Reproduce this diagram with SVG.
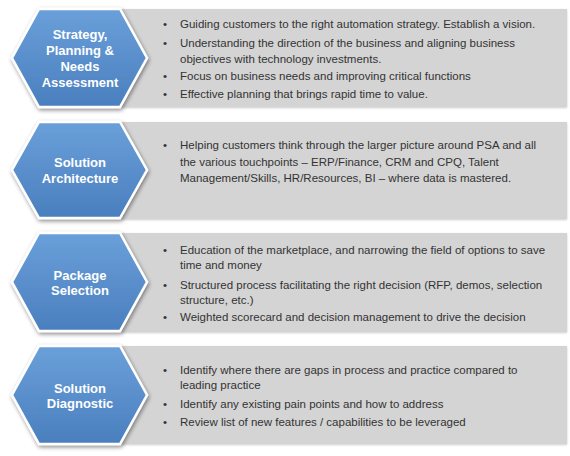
<svg xmlns="http://www.w3.org/2000/svg" width="570" height="456" viewBox="0 0 570 456">
<defs>
<linearGradient id="hexg" x1="0" y1="0" x2="0" y2="1">
<stop offset="0" stop-color="#6aa0d9"/>
<stop offset="0.5" stop-color="#5a8fcc"/>
<stop offset="1" stop-color="#4a7fbe"/>
</linearGradient>
<filter id="sh" x="-20%" y="-20%" width="140%" height="140%">
<feGaussianBlur in="SourceAlpha" stdDeviation="2"/>
<feOffset dx="1" dy="2"/>
<feComponentTransfer><feFuncA type="linear" slope="0.45"/></feComponentTransfer>
<feMerge><feMergeNode/><feMergeNode in="SourceGraphic"/></feMerge>
</filter>
<filter id="psh" x="-5%" y="-10%" width="110%" height="120%">
<feGaussianBlur in="SourceAlpha" stdDeviation="1"/>
<feOffset dx="0" dy="1"/>
<feComponentTransfer><feFuncA type="linear" slope="0.2"/></feComponentTransfer>
<feMerge><feMergeNode/><feMergeNode in="SourceGraphic"/></feMerge>
</filter>
</defs>
<style>
.panel{fill:#d4d4d4;}
.hex{fill:url(#hexg);stroke:#ffffff;stroke-width:2.5;stroke-linejoin:miter;}
.ht{font-family:"Liberation Sans",Arial,sans-serif;font-weight:bold;font-size:13px;fill:#ffffff;text-anchor:middle;}
.bt{font-family:"Liberation Sans",Arial,sans-serif;font-size:11.5px;fill:#333333;}
</style>
<rect width="570" height="456" fill="#ffffff"/>

<g id="node1">
<rect class="panel" x="120" y="9" width="447" height="98" filter="url(#psh)"/>
<polygon class="hex" points="12,58 39,9 120,9 147,58 120,107 39,107" filter="url(#sh)"/>
<text class="ht" x="80" y="38.5">Strategy,</text>
<text class="ht" x="80" y="54.5">Planning &amp;</text>
<text class="ht" x="80" y="70.5">Needs</text>
<text class="ht" x="80" y="86.5">Assessment</text>
<g class="bt">
<text x="163" y="28">•</text><text x="180" y="28">Guiding customers to the right automation strategy. Establish a vision.</text>
<text x="163" y="47">•</text><text x="180" y="47">Understanding the direction of the business and aligning business</text>
<text x="180" y="63">objectives with technology investments.</text>
<text x="163" y="80">•</text><text x="180" y="80">Focus on business needs and improving critical functions</text>
<text x="163" y="98">•</text><text x="180" y="98">Effective planning that brings rapid time to value.</text>
</g>
</g>

<g id="node2">
<rect class="panel" x="120" y="122" width="447" height="97" filter="url(#psh)"/>
<polygon class="hex" points="12,170 39,122 120,122 147,170 120,218 39,218" filter="url(#sh)"/>
<text class="ht" x="80" y="166.5">Solution</text>
<text class="ht" x="80" y="182.5">Architecture</text>
<g class="bt">
<text x="163" y="149">•</text><text x="180" y="149">Helping customers think through the larger picture around PSA and all</text>
<text x="180" y="166">the various touchpoints – ERP/Finance, CRM and CPQ, Talent</text>
<text x="180" y="182">Management/Skills, HR/Resources, BI – where data is mastered.</text>
</g>
</g>

<g id="node3">
<rect class="panel" x="120" y="233" width="447" height="99" filter="url(#psh)"/>
<polygon class="hex" points="12,282 39,233 120,233 147,282 120,331 39,331" filter="url(#sh)"/>
<text class="ht" x="80" y="279.5">Package</text>
<text class="ht" x="80" y="294.5">Selection</text>
<g class="bt">
<text x="163" y="254">•</text><text x="180" y="254">Education of the marketplace, and narrowing the field of options to save</text>
<text x="180" y="269">time and money</text>
<text x="163" y="289">•</text><text x="180" y="289">Structured process facilitating the right decision (RFP, demos, selection</text>
<text x="180" y="304">structure, etc.)</text>
<text x="163" y="321">•</text><text x="180" y="321">Weighted scorecard and decision management to drive the decision</text>
</g>
</g>

<g id="node4">
<rect class="panel" x="120" y="346" width="447" height="98" filter="url(#psh)"/>
<polygon class="hex" points="12,395 39,346 120,346 147,395 120,444 39,444" filter="url(#sh)"/>
<text class="ht" x="80" y="392.5">Solution</text>
<text class="ht" x="80" y="407.5">Diagnostic</text>
<g class="bt">
<text x="163" y="374">•</text><text x="180" y="374">Identify where there are gaps in process and practice compared to</text>
<text x="180" y="389">leading practice</text>
<text x="163" y="408">•</text><text x="180" y="408">Identify any existing pain points and how to address</text>
<text x="163" y="426">•</text><text x="180" y="426">Review list of new features / capabilities to be leveraged</text>
</g>
</g>

<g id="connectors"></g>
</svg>
